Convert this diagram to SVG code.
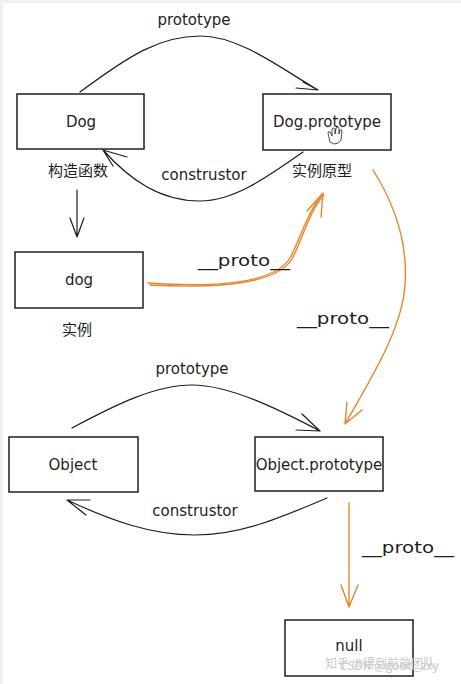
<svg xmlns="http://www.w3.org/2000/svg" width="461" height="684" viewBox="0 0 461 684">
<style>
.box{fill:#fff;stroke:#1e1e1e;stroke-width:1.5}
.lbl{font-family:"DejaVu Sans",sans-serif;font-size:15px;fill:#1e1e1e;text-anchor:middle}
.cn{font-family:"Noto Sans CJK SC",sans-serif;font-size:15px;fill:#1e1e1e;text-anchor:middle}
.k{fill:none;stroke:#1e1e1e;stroke-width:1.2;stroke-linecap:round;stroke-linejoin:round}
.o{fill:none;stroke:#e8862c;stroke-width:1.4;stroke-linecap:round;stroke-linejoin:round}
.wm{font-family:"Noto Sans CJK SC",sans-serif;font-size:12px;fill:#c8c8c8}
</style>
<rect width="461" height="684" fill="#fff"/>
<rect width="461" height="3" fill="#f0f0f0"/>
<rect width="3" height="684" fill="#f0f0f0"/>
<g id="connectors">
<path class="k" d="M80,92 C130,55 160,36 200,36 C240,36 280,68 318,90 M303,82 L318,90 L296,88"/>
<path class="k" d="M303,152 C270,175 235,201 200,201 C160,201 130,180 103,150 M127,157 L103,150 L113,166"/>
<path class="k" d="M77,190 L77,237 M70,218 L77,237 L84,218"/>
<path class="o" d="M148,283 C220,288 275,282 290,258 C300,240 308,210 323,194 M307,211 L323,193 L321,217"/>
<path class="o" d="M150,285 C222,289 277,283 292,259 C302,241 309,211 324,195" stroke-width="0.8"/>
<path class="o" d="M373,170 C395,205 408,245 405,285 C402,330 370,380 345,424 M347,402 L345,424 L362,410"/>
<path class="k" d="M72,428 C115,405 155,385 192,385 C230,385 280,410 320,431 M302,414 L320,431 L296,430"/>
<path class="k" d="M327,498 C280,518 240,535 195,535 C150,535 110,520 67,500 M90,500 L67,500 L86,515"/>
<path class="o" d="M349,503 L349,607 M341,585 L349,607 L358,585"/>
<text class="lbl" x="194" y="25">prototype</text>
<text class="lbl" x="204" y="180">construstor</text>
<text class="lbl" x="244" y="266" textLength="92" lengthAdjust="spacingAndGlyphs">__proto__</text>
<text class="lbl" x="343" y="324" textLength="92" lengthAdjust="spacingAndGlyphs">__proto__</text>
<text class="lbl" x="192" y="374">prototype</text>
<text class="lbl" x="195" y="516">construstor</text>
<text class="lbl" x="408" y="553" textLength="92" lengthAdjust="spacingAndGlyphs">__proto__</text>
</g>
<g id="dog-ctor">
<rect class="box" x="17" y="94" width="127" height="55"/>
<text class="lbl" x="81" y="127">Dog</text>
<text class="cn" x="78" y="176">构造函数</text>
</g>
<g id="dog-prototype">
<rect class="box" x="263" y="94" width="128" height="56"/>
<text class="lbl" x="327" y="127">Dog.prototype</text>
<text class="cn" x="322" y="176">实例原型</text>
<path d="M330,142 L328,133 Q328,131 330,132 L332,136 L332,129 Q333,127 335,129 L335,134 L336,128 Q338,126 339,128 L339,134 L340,130 Q342,129 342,131 L341,140 Q339,144 334,144 Z" fill="#fff" stroke="#1e1e1e" stroke-width="0.8"/>
</g>
<g id="dog-instance">
<rect class="box" x="15" y="252" width="128" height="56"/>
<text class="lbl" x="79" y="285">dog</text>
<text class="cn" x="77" y="335">实例</text>
</g>
<g id="object-ctor">
<rect class="box" x="9" y="437" width="129" height="55"/>
<text class="lbl" x="73" y="470">Object</text>
</g>
<g id="object-prototype">
<rect class="box" x="255" y="437" width="128" height="54"/>
<text class="lbl" x="319" y="470">Object.prototype</text>
</g>
<g id="null">
<rect class="box" x="285" y="620" width="128" height="56"/>
<text class="lbl" x="349" y="651">null</text>
</g>
<g id="watermark">
<text class="wm" x="325" y="668">知乎 @得到前端团队</text>
<text class="wm" x="340" y="670" font-family="Liberation Sans,sans-serif">CSDN @good_zxy</text>
</g>
</svg>
